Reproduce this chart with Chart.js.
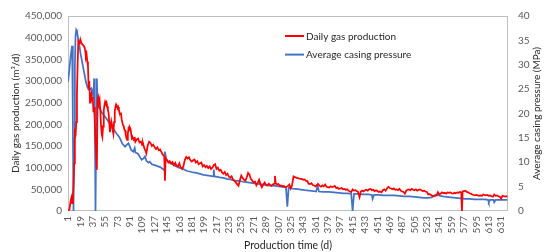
<!DOCTYPE html>
<html><head><meta charset="utf-8">
<script src="https://cdn.jsdelivr.net/npm/chart.js@4.4.0/dist/chart.umd.min.js"></script>
<style>html,body{margin:0;padding:0;background:#fff;}#wrap{width:550px;height:252px;}</style>
</head><body><div id="wrap"><canvas id="c" width="550" height="252"></canvas></div>
<script>
const xTickDays = [1,19,37,55,73,91,109,127,145,163,181,199,217,235,253,271,289,307,325,343,361,379,397,415,433,451,469,487,505,523,541,559,577,595,613,631];
const seriesNames = ['Daily gas production', 'Average casing pressure'];
const seriesColors = ['#FF0000', '#4472C4'];
const axisTitles = ['Production time (d)', 'Daily gas production (m\u00B3/d)', 'Average casing pressure (MPa)'];

// [day, m3/d]
const gasProduction = [
[1,0],[3,3000],[5,25000],[6,31000],[7,18000],[8,33000],[9,60000],[10,110000],[11,190000],[12,172000],[13,205000],[14,270000],[15,340000],[16,392000],[18,388000],[19,396000],[21,386000],[23,383000],[25,378000],[26,370000],[27,356000],[28,362000],[29,345000],[30,336000],[31,283000],[32,300000],[33,250000],[34,268000],[35,272000],[36,255000],[37,263000],[38,228000],[39,240000],[40,205000],[41,160000],[42,130000],[43,95000],[44,255000],[45,262000],[46,250000],[47,257000],[48,232000],[49,198000],[50,178000],[51,171000],[52,195000],[53,232000],[54,244000],[55,252000],[56,248000],[57,251000],[58,242000],[59,233000],[60,227000],[61,205000],[62,182000],[63,196000],[64,207000],[65,199000],[66,186000],[67,178000],[68,205000],[69,230000],[70,240000],[71,246000],[72,243000],[73,237000],[74,240000],[75,233000],[76,228000],[77,224000],[78,227000],[79,212000],[80,205000],[81,198000],[82,196000],[83,188000],[84,186000],[85,176000],[86,168000],[87,164000],[88,178000],[89,190000],[90,186000],[91,193000],[92,190000],[93,176000],[94,168000],[95,170000],[96,166000],[97,163000],[98,171000],[99,160000],[101,165000],[103,167000],[105,158000],[107,160000],[109,152000],[110,157000],[112,145000],[114,138000],[115,133000],[117,152000],[119,160000],[121,157000],[123,150000],[125,153000],[127,147000],[129,143000],[131,147000],[133,140000],[135,142000],[137,136000],[139,130000],[141,126000],[142,70000],[143,122000],[145,118000],[147,112000],[149,115000],[151,110000],[153,113000],[155,106000],[157,111000],[159,104000],[161,103000],[163,110000],[165,100000],[167,97000],[169,104000],[171,118000],[173,125000],[175,121000],[177,124000],[179,117000],[181,114000],[183,117000],[185,119000],[187,112000],[189,115000],[191,108000],[193,110000],[195,112000],[197,103000],[199,106000],[201,101000],[203,104000],[205,99000],[207,103000],[209,97000],[211,100000],[213,106000],[215,108000],[217,97000],[219,100000],[221,93000],[223,95000],[225,89000],[227,86000],[229,90000],[231,83000],[233,86000],[235,79000],[237,77000],[239,80000],[241,73000],[243,70000],[245,66000],[247,62000],[249,58000],[251,71000],[253,82000],[255,76000],[257,72000],[259,70000],[261,78000],[263,88000],[265,84000],[267,74000],[269,70000],[271,66000],[273,68000],[275,59000],[277,65000],[279,72000],[281,62000],[283,55000],[285,61000],[287,66000],[289,60000],[291,59000],[293,63000],[295,60000],[297,58000],[299,61000],[301,63000],[302,81000],[303,65000],[305,61000],[307,62000],[309,58000],[311,59000],[313,57000],[315,58000],[317,55000],[319,56000],[321,58000],[323,61000],[325,52000],[327,60000],[329,80000],[331,78000],[333,77000],[335,76000],[337,75000],[339,74000],[341,74000],[343,72000],[345,73000],[347,70000],[349,69000],[351,63000],[353,62000],[355,64000],[357,60000],[359,59000],[361,57000],[363,60000],[365,62000],[367,58000],[369,56000],[371,59000],[373,57000],[375,61000],[377,56000],[379,55000],[381,54000],[383,57000],[385,55000],[387,56000],[389,58000],[391,53000],[393,54000],[395,51000],[397,52000],[399,53000],[401,50000],[403,51000],[405,49000],[407,50000],[409,47000],[411,45000],[413,43500],[415,50000],[417,47000],[419,48000],[421,46000],[423,44000],[425,32000],[427,45000],[429,47000],[431,45000],[433,48000],[435,49000],[437,47000],[439,50000],[441,51000],[443,48000],[445,49000],[447,46000],[449,48000],[451,46000],[453,44000],[455,45000],[457,43000],[459,48000],[461,50000],[463,47000],[465,52000],[467,56000],[469,53000],[471,52000],[473,50000],[475,52000],[477,49000],[479,50000],[481,48000],[483,51000],[485,47000],[487,45000],[489,44000],[491,40000],[493,47000],[495,49000],[497,50000],[499,48000],[501,51000],[503,49000],[505,48000],[507,50000],[509,47000],[511,49000],[513,50000],[515,48000],[517,46000],[519,47000],[521,45000],[523,44000],[525,38000],[527,39000],[529,37000],[531,35000],[533,34000],[535,35000],[537,36000],[539,43500],[541,38000],[543,40000],[545,43000],[547,41000],[549,42000],[551,40000],[553,43000],[555,42000],[557,43000],[559,41000],[561,40000],[563,42000],[565,41000],[567,43000],[569,42000],[571,44000],[573,43000],[574,0],[575,45000],[577,46000],[579,47000],[581,44000],[583,43000],[585,41000],[587,40000],[589,38000],[591,37000],[593,36000],[595,37000],[597,36000],[599,35000],[601,36000],[603,35000],[605,38000],[607,37000],[609,36000],[611,37000],[613,35000],[615,36000],[617,34000],[619,33000],[621,38000],[623,35000],[625,36000],[627,34000],[629,33000],[631,28500],[633,35000],[635,34000],[637,33000],[639,34000],[640,33000]
];

// [day, MPa]
const casingPressure = [
[1,26.5],[3,29],[5,32],[7,33.9],[8,20],[9,0],[10,15],[11,30],[12,36],[13,37.2],[14,37],[15,36],[17,34.5],[19,32.5],[21,31],[23,29.5],[25,28],[27,26.5],[29,25.5],[31,24.9],[33,25],[35,25.2],[36,24.8],[37,24],[38,23.5],[39,27.2],[40,20],[41,0],[42,15],[43,27.2],[44,21.6],[46,21.2],[48,20.9],[50,20.2],[52,19.8],[54,19.5],[57,18.9],[60,18.3],[62,17.8],[65,17.5],[67,16.8],[70,16.2],[72,15.8],[75,15.3],[78,14.5],[80,13.8],[82,13.5],[84,13.2],[86,13.5],[89,13.9],[91,13.2],[93,12.5],[96,12.2],[98,12.9],[99,12.0],[101,11.9],[103,11.7],[106,11],[108,10.5],[111,10.8],[113,11.2],[115,10.3],[118,9.9],[120,10.1],[123,9.6],[127,9.4],[131,9.2],[135,9.0],[139,8.6],[141,8.4],[142,12.2],[144,10.5],[147,10.1],[150,9.8],[154,9.5],[158,9.2],[162,8.9],[166,8.8],[170,8.5],[174,8.2],[178,8.1],[183,7.9],[188,7.8],[193,7.6],[198,7.4],[203,7.3],[208,7.2],[212,7.1],[213,8.5],[214,7.1],[218,7.0],[222,6.9],[227,6.8],[232,6.6],[237,6.5],[242,6.3],[246,6.2],[250,6.2],[255,6.0],[260,5.9],[265,5.8],[270,5.7],[275,5.6],[280,5.5],[285,5.4],[290,5.3],[295,5.2],[300,5.2],[305,5.1],[310,5.0],[315,4.9],[318,4.9],[320,0.9],[322,4.8],[328,4.6],[335,4.5],[340,4.4],[345,4.3],[352,4.2],[358,4.1],[362,4.0],[364,5.2],[366,4.0],[372,3.9],[380,3.9],[388,3.8],[395,3.7],[402,3.6],[408,3.6],[413,3.5],[415,0],[417,3.5],[422,3.5],[430,3.4],[438,3.4],[443,3.3],[444,2.5],[446,3.3],[452,3.3],[460,3.2],[468,3.2],[475,3.2],[483,3.1],[490,3.0],[498,3.0],[505,2.9],[512,2.8],[518,2.7],[524,2.7],[530,2.8],[535,3.3],[540,3.2],[546,3.0],[552,2.9],[558,2.8],[565,2.7],[572,2.6],[578,2.5],[585,2.5],[592,2.4],[600,2.4],[607,2.4],[612,2.3],[613,1.8],[615,2.3],[620,2.3],[621,1.8],[623,2.3],[630,2.3],[636,2.3],[640,2.3]
];

const FONT = 'Lato, "Open Sans", sans-serif';
const tickColor = '#595959';
const textColor = '#262626';

const overlay = {
  id: 'overlay',
  beforeDatasetsDraw(chart) {
    const {ctx, chartArea: a} = chart;
    ctx.save();
    ctx.strokeStyle = '#BFBFBF';
    ctx.lineWidth = 1;
    ctx.strokeRect(Math.round(a.left) + 0.5, Math.round(a.top) + 0.5, Math.round(a.right - a.left) - 1, Math.round(a.bottom - a.top) - 1);
    ctx.restore();
  },
  afterDraw(chart) {
    const {ctx, chartArea: a} = chart;
    ctx.save();
    ctx.font = '10px ' + FONT;
    ctx.textBaseline = 'middle';
    ctx.textAlign = 'left';
    chart.data.datasets.forEach((ds, i) => {
      const y = a.top + 20 + i * 18.6;
      const x0 = a.left + 217;
      ctx.strokeStyle = ds.borderColor;
      ctx.lineWidth = 2;
      ctx.beginPath(); ctx.moveTo(x0, y); ctx.lineTo(x0 + 19, y); ctx.stroke();
      ctx.fillStyle = textColor;
      ctx.fillText(ds.label, x0 + 21, y + 0.5);
    });
    ctx.translate(537, (a.top + a.bottom) / 2);
    ctx.rotate(-Math.PI / 2);
    ctx.textAlign = 'center';
    ctx.font = '10px ' + FONT;
    ctx.fillStyle = textColor;
    ctx.fillText(axisTitles[2], 0, 0);
    ctx.restore();
  }
};

new Chart(document.getElementById('c'), {
  type: 'line',
  data: {
    datasets: [
      { label: seriesNames[0], data: gasProduction.map(p => ({x: p[0], y: p[1]})), borderColor: seriesColors[0], backgroundColor: seriesColors[0], borderWidth: 1.75, pointRadius: 0, tension: 0, yAxisID: 'y' },
      { label: seriesNames[1], data: casingPressure.map(p => ({x: p[0], y: p[1]})), borderColor: seriesColors[1], backgroundColor: seriesColors[1], borderWidth: 1.75, pointRadius: 0, tension: 0, yAxisID: 'y1' }
    ]
  },
  options: {
    responsive: false,
    animation: false,
    devicePixelRatio: 1,
    layout: { padding: { top: 11, left: 0, right: 0, bottom: 0 } },
    plugins: { legend: { display: false }, tooltip: { enabled: false } },
    scales: {
      x: {
        type: 'linear', position: 'bottom', min: 1, max: 641,
        afterBuildTicks: s => { s.ticks = xTickDays.map(v => ({value: v})); },
        afterFit: s => { s.height = 41; },
        grid: { display: false, drawTicks: false },
        border: { display: false },
        ticks: { autoSkip: false, maxRotation: 90, minRotation: 90, padding: 5, color: tickColor, font: { family: FONT, size: 10 }, callback: v => String(v) },
        title: { display: true, text: axisTitles[0], color: textColor, font: { family: FONT, size: 10.5 }, padding: { top: 4, bottom: 0 } }
      },
      y: {
        position: 'left', min: 0, max: 450000,
        afterFit: s => { s.width = 68; },
        grid: { display: false, drawTicks: false },
        border: { display: false },
        ticks: { stepSize: 50000, padding: 6, color: tickColor, font: { family: FONT, size: 10 }, callback: v => v.toLocaleString('en-US') },
        title: { display: true, text: axisTitles[1], color: textColor, font: { family: FONT, size: 10 }, padding: { top: 10, bottom: 0 } }
      },
      y1: {
        position: 'right', min: 0, max: 40,
        afterFit: s => { s.width = 42; },
        grid: { display: false, drawTicks: false },
        border: { display: false },
        ticks: { stepSize: 5, padding: 10, color: tickColor, font: { family: FONT, size: 10 } }
      }
    }
  },
  plugins: [overlay]
});
</script>
</body></html>
